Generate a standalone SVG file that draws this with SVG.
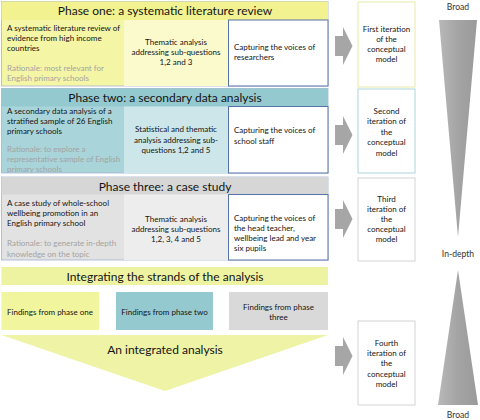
<svg xmlns="http://www.w3.org/2000/svg" width="480" height="420" viewBox="0 0 480 420">
<defs>
<style>
text{font-family:Lato,"Liberation Sans",sans-serif;fill:#141414}
.h{font-size:12px}
.b{font-size:8px}
.c{text-anchor:middle}
.g{fill:#a3a3a3}
.blk{stroke:#a3b3cf;stroke-width:0.8}
.rc{fill:#fff;stroke:#5673a8;stroke-width:1}
.mb{fill:#fff;stroke-width:1}
.arr{fill:#a6a6a6}
.s{font-size:8.6px;fill:#333}
</style>
<linearGradient id="tg" x1="0" y1="0" x2="1" y2="0">
<stop offset="0" stop-color="#b8b8b8"/>
<stop offset="0.5" stop-color="#a4a4a4"/>
<stop offset="1" stop-color="#9a9a9a"/>
</linearGradient>
</defs>
<rect width="480" height="420" fill="#fff"/>

<g id="phase1">
<rect class="blk" x="1.5" y="1.5" width="326.5" height="84.5" fill="#f5f5a6"/>
<rect x="1.5" y="1.5" width="326.5" height="18.5" fill="#f2f291"/>
<rect x="124" y="20" width="104.5" height="66" fill="#fafacd"/>
<rect class="rc" x="228.5" y="20" width="99.5" height="66"/>
<text class="h c" x="165" y="15">Phase one: a systematic literature review</text>
<text class="b" x="7" y="31">A systematic literature review of</text>
<text class="b" x="7" y="41">evidence from high income</text>
<text class="b" x="7" y="51">countries</text>
<text class="b g" x="7" y="71">Rationale: most relevant for</text>
<text class="b g" x="7" y="81">English primary schools</text>
<text class="b c" x="176" y="45">Thematic analysis</text>
<text class="b c" x="176" y="55">addressing sub-questions</text>
<text class="b c" x="176" y="65">1,2 and 3</text>
<text class="b" x="234" y="50">Capturing the voices of</text>
<text class="b" x="234" y="60">researchers</text>
</g>

<g id="phase2">
<rect class="blk" x="1.5" y="88.5" width="326.5" height="84.5" fill="#a9d4d9"/>
<rect x="1.5" y="88.5" width="326.5" height="18" fill="#93c9cf"/>
<rect x="124" y="106.5" width="104.5" height="66.5" fill="#cce6e9"/>
<rect class="rc" x="228.5" y="106.5" width="99.5" height="66.5"/>
<text class="h c" x="165" y="102">Phase two: a secondary data analysis</text>
<text class="b" x="7" y="114">A secondary data analysis of a</text>
<text class="b" x="7" y="124">stratified sample of 26 English</text>
<text class="b" x="7" y="134">primary schools</text>
<text class="b g" x="7" y="152">Rationale: to explore a</text>
<text class="b g" x="7" y="162">representative sample of English</text>
<text class="b g" x="7" y="172">primary schools</text>
<text class="b c" x="176" y="132">Statistical and thematic</text>
<text class="b c" x="176" y="142.5">analysis addressing sub-</text>
<text class="b c" x="176" y="153">questions 1,2 and 5</text>
<text class="b" x="234" y="133">Capturing the voices of</text>
<text class="b" x="234" y="144">school staff</text>
</g>

<g id="phase3">
<rect class="blk" x="1.5" y="177" width="326.5" height="83" fill="#e2e2e2"/>
<rect x="1.5" y="177" width="326.5" height="17.5" fill="#d6d6d6"/>
<rect x="124" y="194.5" width="104.5" height="65.5" fill="#ededed"/>
<rect class="rc" x="228.5" y="194.5" width="99.5" height="65.5"/>
<text class="h c" x="165" y="191">Phase three: a case study</text>
<text class="b" x="7" y="206">A case study of whole-school</text>
<text class="b" x="7" y="216">wellbeing promotion in an</text>
<text class="b" x="7" y="226">English primary school</text>
<text class="b g" x="7" y="246">Rationale: to generate in-depth</text>
<text class="b g" x="7" y="257">knowledge on the topic</text>
<text class="b c" x="176" y="221.5">Thematic analysis</text>
<text class="b c" x="176" y="231.5">addressing sub-questions</text>
<text class="b c" x="176" y="241.5">1,2, 3, 4 and 5</text>
<text class="b" x="234" y="221">Capturing the voices of</text>
<text class="b" x="234" y="231">the head teacher,</text>
<text class="b" x="234" y="241">wellbeing lead and year</text>
<text class="b" x="234" y="251">six pupils</text>
</g>

<g id="integrating">
<rect x="1.5" y="267" width="326.5" height="18" fill="#eef3a2"/>
<text class="h c" x="165" y="281">Integrating the strands of the analysis</text>
</g>
<g id="findings1">
<rect x="1.5" y="292" width="97.5" height="38" fill="#f1f59e"/>
<text class="b c" x="50" y="314.5">Findings from phase one</text>
</g>
<g id="findings2">
<rect x="116" y="292" width="97" height="38" fill="#95c9d0"/>
<text class="b c" x="164.5" y="314.5">Findings from phase two</text>
</g>
<g id="findings3">
<rect x="229" y="292" width="99" height="38" fill="#d9d9d9"/>
<text class="b c" x="278.5" y="309.5">Findings from phase</text>
<text class="b c" x="278.5" y="319.5">three</text>
</g>
<g id="integrated">
<polygon points="1.5,335 328,335 165,391" fill="#eef3a6"/>
<text class="h c" x="165" y="353.5">An integrated analysis</text>
</g>

<g id="model1">
<rect class="mb" x="358" y="2" width="57" height="85" stroke="#e6eba8"/>
<text class="b c" x="386.5" y="31.5">First iteration</text>
<text class="b c" x="386.5" y="41.5">of the</text>
<text class="b c" x="386.5" y="51.5">conceptual</text>
<text class="b c" x="386.5" y="61.5">model</text>
</g>
<g id="model2">
<rect class="mb" x="358" y="89" width="57" height="84" stroke="#add3db"/>
<text class="b c" x="386.5" y="114">Second</text>
<text class="b c" x="386.5" y="124">iteration of</text>
<text class="b c" x="386.5" y="134.5">the</text>
<text class="b c" x="386.5" y="145">conceptual</text>
<text class="b c" x="386.5" y="155.5">model</text>
</g>
<g id="model3">
<rect class="mb" x="358" y="178" width="57" height="83" stroke="#d4d4d4"/>
<text class="b c" x="386.5" y="202">Third</text>
<text class="b c" x="386.5" y="212">iteration of</text>
<text class="b c" x="386.5" y="222">the</text>
<text class="b c" x="386.5" y="232">conceptual</text>
<text class="b c" x="386.5" y="242">model</text>
</g>
<g id="model4">
<rect class="mb" x="358" y="321" width="57" height="84" stroke="#d4d4d4"/>
<text class="b c" x="386.5" y="345.5">Fourth</text>
<text class="b c" x="386.5" y="356">iteration of</text>
<text class="b c" x="386.5" y="366">the</text>
<text class="b c" x="386.5" y="376.5">conceptual</text>
<text class="b c" x="386.5" y="386.5">model</text>
</g>

<g id="connectors">
<path class="arr" d="M335,36 h8 v-9 l9.5,19 l-9.5,19 v-9 h-8 z"/>
<path class="arr" d="M335,125 h8 v-9 l9.5,19 l-9.5,19 v-9 h-8 z"/>
<path class="arr" d="M335,209 h8 v-9 l9.5,19 l-9.5,19 v-9 h-8 z"/>
<path class="arr" d="M335,346 h8 v-9 l9.5,19 l-9.5,19 v-9 h-8 z"/>
</g>

<g id="scale">
<polygon points="439,20 477,20 458,237" fill="url(#tg)"/>
<polygon points="458,270 478,405 438,405" fill="url(#tg)"/>
<text class="s c" x="458" y="10">Broad</text>
<text class="s c" x="458" y="257">In-depth</text>
<text class="s c" x="458" y="418">Broad</text>
</g>
</svg>
